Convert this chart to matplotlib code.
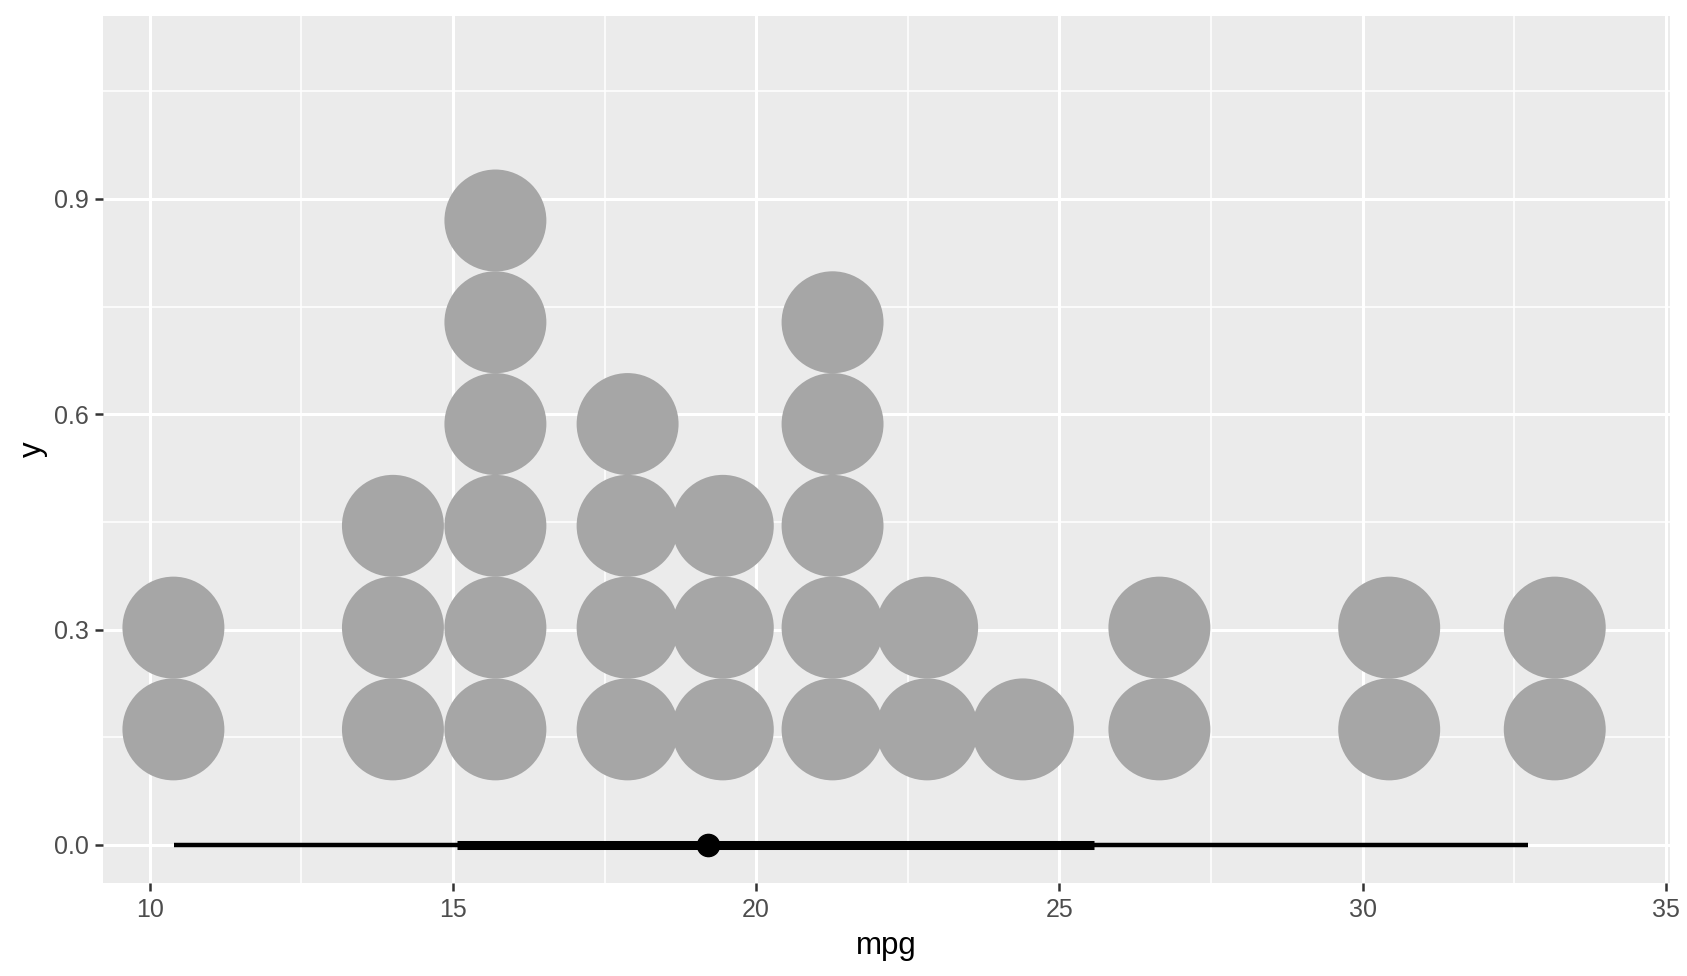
import numpy as np
import matplotlib
matplotlib.use('Agg')
import matplotlib.pyplot as plt
from matplotlib.ticker import MultipleLocator

plt.rcParams['font.family'] = ['Liberation Sans', 'DejaVu Sans']

# dot stacks (bin centre in mpg, number of cars)
bin_mpg = [10.39, 14.01, 15.70, 17.88, 19.45, 21.26, 22.82, 24.40, 26.65, 30.44, 33.17]
bin_count = [2, 3, 6, 4, 3, 5, 2, 1, 2, 2, 2]

# interval summary of mpg
median_mpg = 19.2
int95 = [10.4, 32.73]
int66 = [15.06, 25.57]

x_ticks = [10, 15, 20, 25, 30, 35]
y_ticks = [0.0, 0.3, 0.6, 0.9]

# stack geometry
base_y = 0.161
step_y = 0.1418

fig = plt.figure(figsize=(16.87, 9.76), dpi=100)
ax = fig.add_axes([0.0611, 0.0950, 0.9288, 0.8889])
ax.set_facecolor('#EBEBEB')

dot_x, dot_y = [], []
for xm, n in zip(bin_mpg, bin_count):
    for i in range(n):
        dot_x.append(xm)
        dot_y.append(base_y + i * step_y)
ax.scatter(dot_x, dot_y, s=73.4 ** 2, color='#A6A6A6', edgecolors='none', zorder=3)

# interval + median point
ax.plot(int95, [0, 0], color='black', lw=3.2, solid_capstyle='butt', zorder=4)
ax.plot(int66, [0, 0], color='black', lw=6.5, solid_capstyle='butt', zorder=5)
ax.plot([median_mpg], [0], 'o', color='black', ms=16, zorder=6)

ax.set_xlim(9.23, 35.07)
ax.set_ylim(-0.0534, 1.1553)
ax.set_xticks(x_ticks)
ax.set_yticks(y_ticks)
ax.set_yticklabels(['%.1f' % v for v in y_ticks])
ax.xaxis.set_minor_locator(MultipleLocator(2.5))
ax.yaxis.set_minor_locator(MultipleLocator(0.15))

ax.grid(which='major', color='white', lw=2.2)
ax.grid(which='minor', color='white', lw=1.1)
ax.set_axisbelow(True)
for s in ax.spines.values():
    s.set_visible(False)

ax.tick_params(which='major', length=5.5, width=1.8, color='#333333',
               labelsize=18, labelcolor='#4D4D4D', pad=5)
ax.tick_params(which='minor', length=0)

ax.set_xlabel('mpg', fontsize=22.5, labelpad=6.5)
ax.set_ylabel('y', fontsize=22.5, labelpad=4)

fig.savefig('out.png', dpi=100)
